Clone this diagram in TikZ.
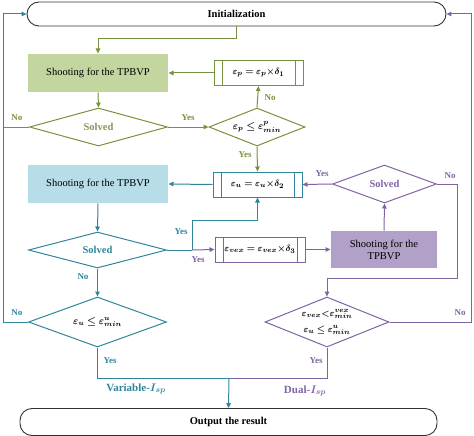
\documentclass[tikz,border=0pt]{standalone}
\usepackage{fontspec}
\setmainfont{Liberation Serif}
\usepackage{amsmath,bm}
\usetikzlibrary{shapes.geometric,arrows.meta}

\definecolor{gline}{RGB}{118,146,60}
\definecolor{gtext}{RGB}{132,150,90}
\definecolor{gfill}{RGB}{196,214,160}
\definecolor{tline}{RGB}{49,133,155}
\definecolor{bfill}{RGB}{183,222,232}
\definecolor{pline}{RGB}{128,100,162}
\definecolor{pfill}{RGB}{177,160,199}

\begin{document}
\begin{tikzpicture}
[x=1pt, y=-1pt, font=\fontsize{10.5}{12}\selectfont, line width=1pt,
>={Triangle[length=5pt,width=4.5pt]},
term/.style={rectangle, rounded corners=12pt, draw=black!80, line width=0.9pt, minimum width=419pt, minimum height=24pt, font=\fontsize{10.5}{12}\selectfont\bfseries},
shoot/.style={rectangle, fill=#1, inner sep=0pt, minimum width=140pt, minimum height=38pt, align=center},
proc/.style={rectangle, draw=#1, inner sep=0pt, minimum width=89pt, minimum height=25pt, font=\fontsize{9.5}{11}\selectfont,
  path picture={\draw[#1] ([xshift=8pt]path picture bounding box.north west) -- ([xshift=8pt]path picture bounding box.south west);
                \draw[#1] ([xshift=-8pt]path picture bounding box.north east) -- ([xshift=-8pt]path picture bounding box.south east);}},
test/.style={diamond, draw=#1, aspect=3.6, inner sep=0pt, minimum width=138pt, minimum height=38pt, align=center},
lbl/.style={font=\fontsize{9}{10}\selectfont\bfseries, text=#1}
]
\useasboundingbox (0,0) rectangle (474,436);

% terminals
\node[term] (init) at (236.5,14) {Initialization};
\node[term, minimum width=417pt, minimum height=27pt] (out) at (228.5,422) {Output the result};

% green loop
\node[shoot=gfill] (gbox) at (98,73) {Shooting for the TPBVP};
\node[proc=gline] (pbox) at (258.5,73) {$\bm{\varepsilon_p=\varepsilon_p{\times}\delta_1}$};
\node[test=gline, text=gtext, font=\fontsize{10.5}{12}\selectfont\bfseries] (d1) at (98.5,127) {Solved};
\node[test=gline, minimum width=96pt, font=\fontsize{10}{11}\selectfont] (dp) at (257,127) {$\bm{\varepsilon_p\le\varepsilon_{min}^{p}}$};

% blue loop
\node[shoot=bfill] (bbox) at (98,184) {Shooting for the TPBVP};
\node[proc=tline] (ubox) at (257.5,184.5) {$\bm{\varepsilon_u=\varepsilon_u{\times}\delta_2}$};
\node[test=tline, text=tline, font=\fontsize{10.5}{12}\selectfont\bfseries, minimum height=36pt] (d2) at (97.5,250) {Solved};
\node[test=tline, minimum height=50pt, aspect=2.8, font=\fontsize{10}{11}\selectfont] (d5) at (97.5,322) {$\bm{\varepsilon_u\le\varepsilon_{min}^{u}}$};

% purple loop
\node[proc=pline, minimum width=90pt] (vbox) at (260,249.5) {$\bm{\varepsilon_{vex}=\varepsilon_{vex}{\times}\delta_3}$};
\node[shoot=pfill, minimum width=106pt, minimum height=37pt] (vpbox) at (384,249.5) {Shooting for the\\TPBVP};
\node[test=pline, text=pline, font=\fontsize{10.5}{12}\selectfont\bfseries, minimum width=104pt] (d3) at (384.5,184) {Solved};
\node[test=pline, minimum width=124pt, minimum height=50pt, aspect=2.5, font=\fontsize{9.5}{11}\selectfont] (d4) at (327,322) {$\bm{\varepsilon_{vex}{<}\varepsilon_{min}^{vex}}$\\[5pt]$\bm{\varepsilon_u\le\varepsilon_{min}^{u}}$};

\coordinate (lft) at (3,322);
\coordinate (rgt) at (471,322);
\coordinate (split) at (192,250);
\coordinate (rt) at (457,278);
\coordinate (join) at (229,378);

% green connectors
\draw[->, gline] (init.south) -- ++(0,12) -| (gbox.north);
\draw[->, gline] (gbox.south) -- (d1.north);
\draw[->, gline] (d1.east) -- (dp.west);
\draw[->, gline] (dp.north) -- (pbox.south);
\draw[->, gline] (pbox.west) -- (gbox.east);
\draw[->, gline] (dp.south) -- (ubox.north);
\draw[gline] (d1.west) -- (d1.west -| lft);
\node[lbl=gline] (y1) at (188,118) {Yes};
\node[lbl=gline] (n1) at (270,98) {No};
\node[lbl=gline] (y2) at (245,155) {Yes};
\node[lbl=gline] (n2) at (17,118) {No};

% blue connectors
\draw[->, tline] (ubox.west) -- (bbox.east);
\draw[->, tline] (bbox.south) -- (d2.north);
\draw[tline] (d2.east) -- (split);
\draw[->, tline] (split) -- ++(0,-30) -| (ubox.south);
\draw[->, tline] (d2.south) -- (d5.north);
\draw[->, tline] (d5.west) -- (lft) |- (init.west);
\draw[tline] (d5.south) |- (join);
\node[lbl=tline] (y3) at (181,232) {Yes};
\node[lbl=tline] (n3) at (83,277) {No};
\node[lbl=tline] (n4) at (17,313) {No};
\node[lbl=tline] (y4) at (110,361) {Yes};

% purple connectors
\draw[->, pline] (split) -- (vbox.west);
\draw[->, pline] (vbox.east) -- (vpbox.west);
\draw[->, pline] (vpbox.north) -- (d3.south);
\draw[->, pline] (d3.west) -- (ubox.east);
\draw[->, pline] (d3.east) -| (rt) -| (d4.north);
\draw[->, pline] (d4.east) -- (rgt) |- (init.east);
\draw[pline] (d4.south) |- (join);
\node[lbl=pline] (y5) at (198,260) {Yes};
\node[lbl=pline] (y6) at (322,174) {Yes};
\node[lbl=pline] (n5) at (450,176) {No};
\node[lbl=pline] (n6) at (460,313) {No};
\node[lbl=pline] (y7) at (316,361) {Yes};

% merge
\draw[->, tline] (join) -- (out.north);
\node[text=tline, font=\fontsize{11}{12}\selectfont\bfseries] (vis) at (136,389) {Variable-$\bm{I_{sp}}$};
\node[text=pline, font=\fontsize{11}{12}\selectfont\bfseries] (dis) at (305,391) {Dual-$\bm{I_{sp}}$};
\end{tikzpicture}
\end{document}
